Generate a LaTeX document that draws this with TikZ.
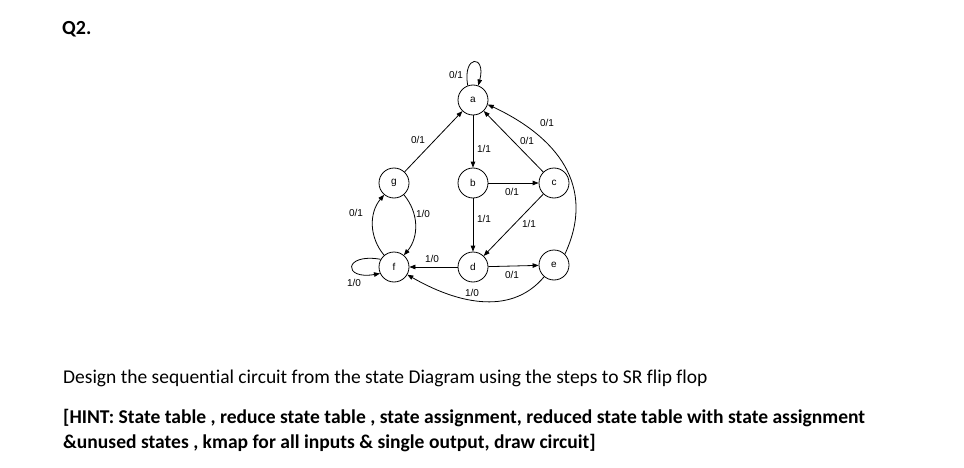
\documentclass[tikz,border=0pt]{standalone}
\usepackage{fontspec}
\setmainfont{Carlito}[Ligatures=NoCommon]
\newfontfamily\diagfont{Liberation Sans}
\usetikzlibrary{arrows.meta}
\begin{document}
\begin{tikzpicture}[x=1pt,y=1pt,
  state/.style={circle,draw,line width=0.8pt,minimum size=30pt,inner sep=0pt,font=\diagfont\fontsize{10}{10}\selectfont},
  tr/.style={draw,line width=0.8pt,-{Triangle[length=6pt,width=4.5pt]}},
  lbl/.style={font=\diagfont\fontsize{10}{10}\selectfont,inner sep=0pt},
  body/.style={anchor=base west,inner sep=0pt,font=\fontsize{19.5}{22}\selectfont},
  bodyb/.style={anchor=base west,inner sep=0pt,font=\bfseries\fontsize{19.55}{22}\selectfont}]
\useasboundingbox (0,0) rectangle (964,467);
% states
\node[state] (a) at (473,367) {a};
\node[state] (g) at (394,284) {g};
\node[state] (b) at (473,284) {b};
\node[state] (c) at (554,284) {c};
\node[state] (f) at (394,200) {f};
\node[state] (d) at (473,200) {d};
\node[state] (e) at (554,202) {e};
% transitions
\draw[tr] (a.110) .. controls +(100:32) and +(75:32) .. (a.70);
\draw[tr] (a) -- (b);
\draw[tr] (g) -- (a);
\draw[tr] (c) -- (a);
\draw[tr] (e.45) to[out=65,in=-25,looseness=1.15] (a.-17);
\draw[tr] (b) -- (c);
\draw[tr] (b) -- (d);
\draw[tr] (c) -- (d);
\draw[tr] (d) -- (f);
\draw[tr] (d) -- (e);
\draw[tr] (g) to[out=-50,in=50] (f);
\draw[tr] (f) to[out=130,in=-130] (g);
\draw[tr] (e) to[out=-130,in=-30] (f);
\draw[tr] (f.150) .. controls +(170:38) and +(190:38) .. (f.205);
% labels
\node[lbl] (la) at (456,392) {0/1};
\node[lbl] (lga) at (418,327) {0/1};
\node[lbl] (lab) at (484,318) {1/1};
\node[lbl] (lca) at (527,326) {0/1};
\node[lbl] (lea) at (547,344) {0/1};
\node[lbl] (lbc) at (512,275) {0/1};
\node[lbl] (lfg) at (356,254) {0/1};
\node[lbl] (lgf) at (423,253) {1/0};
\node[lbl] (lbd) at (484,248) {1/1};
\node[lbl] (lcd) at (529,243) {1/1};
\node[lbl] (ldf) at (432,208) {1/0};
\node[lbl] (lde) at (512,192) {0/1};
\node[lbl] (lef) at (472,174) {1/0};
\node[lbl] (lff) at (354,184) {1/0};
% text
\node[bodyb,font=\bfseries\fontsize{20}{22}\selectfont] (q) at (62,432) {Q2.};
\node[body] (t1) at (63,83.7) {Design the sequential circuit from the state Diagram using the steps to SR flip flop};
\node[bodyb] (t2) at (63,43.7) {[HINT: State table , reduce state table , state assignment, reduced state table with state assignment};
\node[bodyb] (t3) at (63,18.7) {\&unused states , kmap for all inputs \& single output, draw circuit]};
\end{tikzpicture}
\end{document}
